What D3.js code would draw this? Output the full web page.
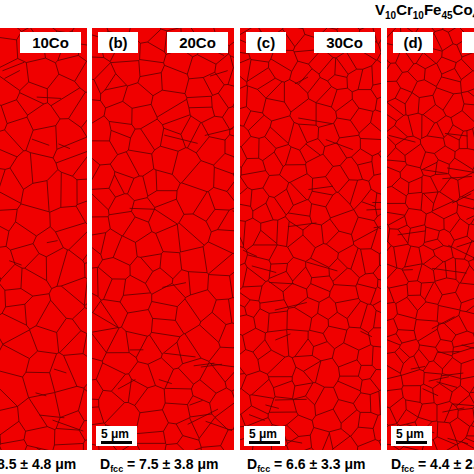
<!DOCTYPE html>
<html><head><meta charset="utf-8">
<script src="https://cdn.jsdelivr.net/npm/d3@7"></script>
<style>body{margin:0;background:#fff;overflow:hidden}svg{display:block;font-family:Arial,"Liberation Sans",sans-serif;font-weight:bold}</style>
</head><body>
<script>
const panels = ["a","b","c","d"];
const compLabels = ["10Co","20Co","30Co","40Co"];
const grainSizes = [8.5, 7.5, 6.6, 4.4];
const grainErrs = [4.8, 3.8, 3.3, 2.1];
const panelX = [[0,87],[92,234],[240,381],[387,474]];
const W=474,H=474, topY=28, botY=450;
const svg=d3.select("body").append("svg").attr("width",W).attr("height",H);
// deterministic texture generator for grain map
function lcg(s){return ()=>{s=(s*1664525+1013904223)%4294967296;return s/4294967296;};}
panels.forEach((p,i)=>{
  const [x0,x1]=panelX[i];
  const g=svg.append("g");
  const cid="c"+i;
  svg.append("clipPath").attr("id",cid).append("rect").attr("x",x0).attr("y",topY).attr("width",x1-x0).attr("height",botY-topY);
  g.append("rect").attr("x",x0).attr("y",topY).attr("width",x1-x0).attr("height",botY-topY).attr("fill","#f00000");
  const r=lcg(17+i*101);
  const step=[26,23,20,17][i];
  const pts=[];
  for(let y=topY-20;y<botY+20;y+=step*0.7) for(let x=x0-60;x<x1+60;x+=step*1.1) pts.push([x+r()*step, y+r()*step*0.8]);
  const vor=d3.Delaunay.from(pts).voronoi([x0-80,topY-40,x1+80,botY+40]);
  g.append("path").attr("clip-path",`url(#${cid})`).attr("d",vor.render()).attr("fill","none").attr("stroke","#5a0000").attr("stroke-width",0.8);
  const tw=g.append("g").attr("clip-path",`url(#${cid})`);
  for(let k=0;k<12+i*4;k++){const cx=x0+r()*(x1-x0),cy=topY+r()*(botY-topY),a=-0.5+r()*1.0,l=10+r()*25;
    tw.append("line").attr("x1",cx).attr("y1",cy).attr("x2",cx+l*Math.cos(a)).attr("y2",cy+l*Math.sin(a)).attr("stroke","#5a0000").attr("stroke-width",0.8);}
  const box=(bx,by,bw,bh,t,fs)=>{svg.append("rect").attr("x",bx).attr("y",by).attr("width",bw).attr("height",bh).attr("fill","#fff");
    svg.append("text").attr("x",bx+bw/2).attr("y",by+bh/2+5).attr("text-anchor","middle").attr("font-size",fs).text(t);};
  box(i==3?462:x1-67, 32, 61, 21, compLabels[i], 15);
  if(i>0){box(x0+6,32,40,21,"("+p+")",15);
    svg.append("rect").attr("x",x0+4).attr("y",426).attr("width",41).attr("height",20).attr("fill","#fff");
    svg.append("text").attr("x",x0+9).attr("y",438).attr("font-size",12).text("5 μm");
    svg.append("rect").attr("x",x0+9).attr("y",441).attr("width",31).attr("height",3).attr("fill","#000");}
  const cxT=[-3,100,247,391][i];
  const t=svg.append("text").attr("x",cxT).attr("y",469).attr("font-size",14);
  if(i>0){t.append("tspan").text("D");t.append("tspan").attr("font-size",9).attr("dy",3).text("fcc");t.append("tspan").attr("dy",-3).text(" = ");}
  t.append("tspan").text(`${grainSizes[i]} ± ${grainErrs[i]} μm`);
});
const tt=svg.append("text").attr("x",375).attr("y",19).attr("font-size",15);
[["V",0],["10",1],["Cr",0],["10",1],["Fe",0],["45",1],["Co",0],["40",1],["Ni",0],["5",1]].forEach(([s,k])=>{
  tt.append("tspan").attr("font-size",k?10:15).attr("dy",k?4:-4).text(s);
});
</script>
</body></html>
